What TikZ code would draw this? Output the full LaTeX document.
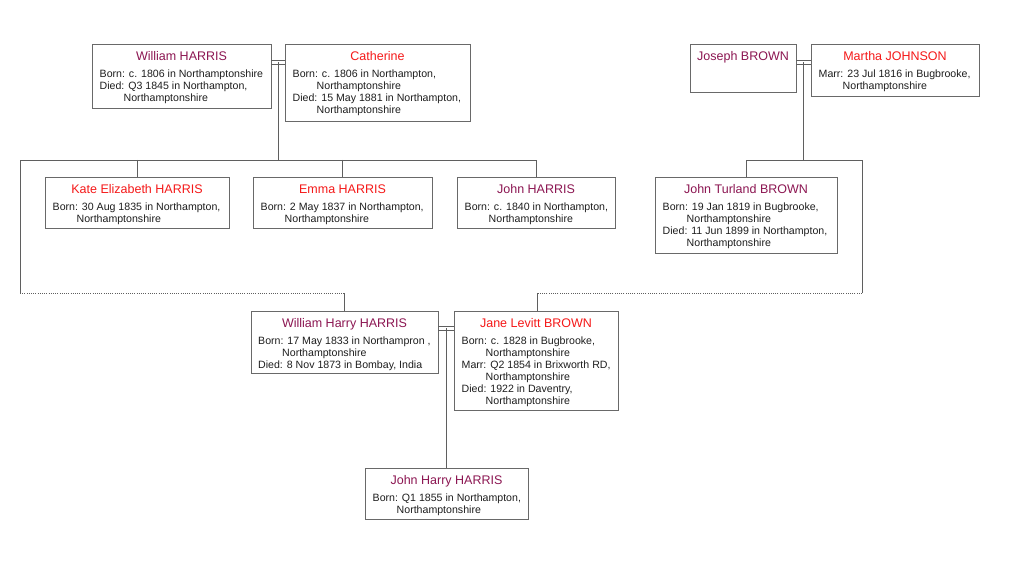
\documentclass[tikz,border=0pt]{standalone}
\usepackage{fontspec}
\setmainfont{Liberation Sans}
\definecolor{male}{RGB}{140,22,82}
\definecolor{female}{RGB}{245,25,25}
\definecolor{boxline}{RGB}{105,105,105}
\definecolor{connline}{RGB}{95,95,95}
\definecolor{dettext}{RGB}{30,30,30}
\newcommand\dl[1]{\hbox{#1}}
\newcommand\dc[1]{\hbox{\kern24pt #1}}
\newcommand\detbox[1]{\vtop{\baselineskip=11.9pt\lineskiplimit=-20pt #1}}
\tikzset{
  pbox/.style={draw=boxline, line width=0.9pt, fill=white, rectangle, inner sep=0pt, outer sep=0pt, anchor=north west},
  pname/.style={inner sep=0pt, anchor=base, font=\fontsize{12.5}{14}\selectfont},
  pdet/.style={inner sep=0pt, anchor=base west, text=dettext, font=\fontsize{10.6}{11.9}\selectfont},
  conn/.style={draw=connline, line width=0.9pt},
  dotconn/.style={draw=connline, line width=0.9pt, dash pattern=on 1pt off 1.2pt}
}
\begin{document}
\begin{tikzpicture}[x=1pt,y=-1pt]
\useasboundingbox (0,0) rectangle (1024,564);
% boxes
\node[pbox, minimum width=179pt, minimum height=64pt] (wh) at (92,44) {};
\node[pbox, minimum width=185pt, minimum height=77pt] (cat) at (285,44) {};
\node[pbox, minimum width=106pt, minimum height=48pt] (jb) at (690,44) {};
\node[pbox, minimum width=168pt, minimum height=52pt] (mj) at (811,44) {};
\node[pbox, minimum width=184pt, minimum height=51pt] (kate) at (45,177) {};
\node[pbox, minimum width=179pt, minimum height=51pt] (emma) at (253,177) {};
\node[pbox, minimum width=158pt, minimum height=51pt] (jh) at (457,177) {};
\node[pbox, minimum width=182pt, minimum height=76pt] (jtb) at (655,177) {};
\node[pbox, minimum width=187pt, minimum height=62pt] (whh) at (251,311) {};
\node[pbox, minimum width=164pt, minimum height=99pt] (jlb) at (454,311) {};
\node[pbox, minimum width=163pt, minimum height=51pt] (jhh) at (365,468) {};
% names
\node[pname, text=male] (wh-n) at ([yshift=-17pt]wh.north) {William HARRIS};
\node[pname, text=female] (cat-n) at ([yshift=-17pt]cat.north) {Catherine};
\node[pname, text=male] (jb-n) at ([yshift=-16.5pt]jb.north) {Joseph BROWN};
\node[pname, text=female] (mj-n) at ([yshift=-16.5pt]mj.north) {Martha JOHNSON};
\node[pname, text=female] (kate-n) at ([yshift=-16.5pt]kate.north) {Kate Elizabeth HARRIS};
\node[pname, text=female] (emma-n) at ([yshift=-16.5pt]emma.north) {Emma HARRIS};
\node[pname, text=male] (jh-n) at ([yshift=-16.5pt]jh.north) {John HARRIS};
\node[pname, text=male] (jtb-n) at ([yshift=-16.5pt]jtb.north) {John Turland BROWN};
\node[pname, text=male] (whh-n) at ([yshift=-16.5pt]whh.north) {William Harry HARRIS};
\node[pname, text=female] (jlb-n) at ([yshift=-16.5pt]jlb.north) {Jane Levitt BROWN};
\node[pname, text=male] (jhh-n) at ([yshift=-16.5pt]jhh.north) {John Harry HARRIS};
% details
\node[pdet] (wh-d) at ([xshift=7.5pt,yshift=-33.5pt]wh.north west) {\detbox{\dl{Born: c. 1806 in Northamptonshire}\dl{Died: Q3 1845 in Northampton,}\dc{Northamptonshire}}};
\node[pdet] (cat-d) at ([xshift=7.5pt,yshift=-33.5pt]cat.north west) {\detbox{\dl{Born: c. 1806 in Northampton,}\dc{Northamptonshire}\dl{Died: 15 May 1881 in Northampton,}\dc{Northamptonshire}}};
\node[pdet] (mj-d) at ([xshift=7.5pt,yshift=-33.5pt]mj.north west) {\detbox{\dl{Marr: 23 Jul 1816 in Bugbrooke,}\dc{Northamptonshire}}};
\node[pdet] (kate-d) at ([xshift=7.5pt,yshift=-33.5pt]kate.north west) {\detbox{\dl{Born: 30 Aug 1835 in Northampton,}\dc{Northamptonshire}}};
\node[pdet] (emma-d) at ([xshift=7.5pt,yshift=-33.5pt]emma.north west) {\detbox{\dl{Born: 2 May 1837 in Northampton,}\dc{Northamptonshire}}};
\node[pdet] (jh-d) at ([xshift=7.5pt,yshift=-33.5pt]jh.north west) {\detbox{\dl{Born: c. 1840 in Northampton,}\dc{Northamptonshire}}};
\node[pdet] (jtb-d) at ([xshift=7.5pt,yshift=-33.5pt]jtb.north west) {\detbox{\dl{Born: 19 Jan 1819 in Bugbrooke,}\dc{Northamptonshire}\dl{Died: 11 Jun 1899 in Northampton,}\dc{Northamptonshire}}};
\node[pdet] (whh-d) at ([xshift=7pt,yshift=-33.5pt]whh.north west) {\detbox{\dl{Born: 17 May 1833 in Northampron ,}\dc{Northamptonshire}\dl{Died: 8 Nov 1873 in Bombay, India}}};
\node[pdet] (jlb-d) at ([xshift=7.5pt,yshift=-33.5pt]jlb.north west) {\detbox{\dl{Born: c. 1828 in Bugbrooke,}\dc{Northamptonshire}\dl{Marr: Q2 1854 in Brixworth RD,}\dc{Northamptonshire}\dl{Died: 1922 in Daventry,}\dc{Northamptonshire}}};
\node[pdet] (jhh-d) at ([xshift=7.5pt,yshift=-33.5pt]jhh.north west) {\detbox{\dl{Born: Q1 1855 in Northampton,}\dc{Northamptonshire}}};
% Harris marriage
\draw[conn] ([yshift=-16.5pt]wh.north east) -- ([yshift=-16.5pt]cat.north west);
\draw[conn] ([yshift=-20.5pt]wh.north east) -- ([yshift=-20.5pt]cat.north west);
\coordinate (hm) at (278,62.5);
\coordinate (hb) at (278,160);
\coordinate (hl) at (20,160);
\coordinate (hd) at (20,293);
\draw[conn] (hm) -- (hb);
\draw[conn] (hd) -- (hl) -- (hb -| jh.north) -- (jh.north);
\draw[conn] (hb -| kate.north) -- (kate.north);
\draw[conn] (hb -| emma.north) -- (emma.north);
\draw[dotconn] (hd) -- (hd -| whh.north);
\draw[conn] (hd -| whh.north) -- (whh.north);
% Brown marriage
\draw[conn] ([yshift=-16.5pt]jb.north east) -- ([yshift=-16.5pt]mj.north west);
\draw[conn] ([yshift=-20.5pt]jb.north east) -- ([yshift=-20.5pt]mj.north west);
\coordinate (bm) at (803.5,62.5);
\coordinate (bb) at (803.5,160);
\coordinate (br) at (862,160);
\coordinate (bd) at (862,293);
\coordinate (jd) at (537,293);
\draw[conn] (bm) -- (bb);
\draw[conn] (jtb.north) -- (jtb.north |- bb) -- (br) -- (bd);
\draw[dotconn] (bd) -- (jd);
\draw[conn] (jd) -- (jd |- jlb.north);
% William Harry - Jane marriage
\draw[conn] ([yshift=-15pt]whh.north east) -- ([yshift=-15pt]jlb.north west);
\draw[conn] ([yshift=-19pt]whh.north east) -- ([yshift=-19pt]jlb.north west);
\coordinate (wm) at (446.5,328);
\draw[conn] (wm) -- (wm |- jhh.north);
\end{tikzpicture}
\end{document}
